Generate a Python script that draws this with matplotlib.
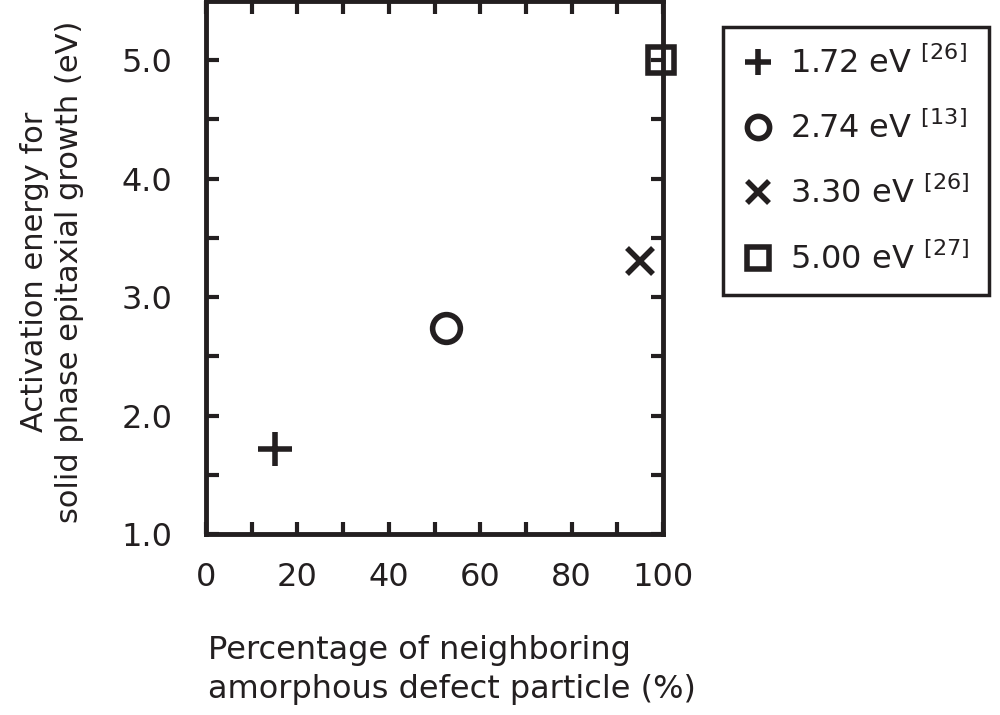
import numpy as np
import matplotlib.pyplot as plt
from matplotlib.ticker import MultipleLocator

plt.rcParams['font.family'] = ['DejaVu Sans']
plt.rcParams['mathtext.default'] = 'regular'

# data
pct = [15, 52.5, 95, 99.5]
energy = [1.72, 2.74, 3.30, 5.00]
labels = ['1.72 eV $^{[26]}$', '2.74 eV $^{[13]}$', '3.30 eV $^{[26]}$', '5.00 eV $^{[27]}$']
markers = ['+', 'o', 'x', 's']
msizes = [24, 20, 19, 19]

ink = '#231f20'

fig = plt.figure(figsize=(10, 7.15), dpi=100)
ax = fig.add_axes([0.206, 0.253, 0.457, 0.746])

for x, y, lab, m, ms in zip(pct, energy, labels, markers, msizes):
    ax.plot([x], [y], linestyle='none', marker=m, markersize=ms,
            markeredgewidth=4, markerfacecolor='none', markeredgecolor=ink,
            color=ink, label=lab, clip_on=False)

ax.set_xlim(0, 100)
ax.set_ylim(1.0, 5.5)
ax.xaxis.set_major_locator(MultipleLocator(20))
ax.xaxis.set_minor_locator(MultipleLocator(10))
ax.yaxis.set_major_locator(MultipleLocator(1.0))
ax.yaxis.set_minor_locator(MultipleLocator(0.5))
ax.yaxis.set_major_formatter(lambda v, p: f'{v:.1f}')
for s in ax.spines.values():
    s.set_linewidth(3.5)
    s.set_color(ink)
ax.tick_params(which='both', direction='in', top=True, right=True,
               length=9, width=3, color=ink, labelsize=23, labelcolor=ink)
ax.tick_params(axis='x', pad=20)
ax.tick_params(axis='y', pad=24)

fig.text(0.208, 0.063, 'Percentage of neighboring\namorphous defect particle (%)',
         fontsize=23, ha='left', va='center', linespacing=1.35, color=ink)
fig.text(0.052, 0.62, 'Activation energy for\nsolid phase epitaxial growth (eV)',
         fontsize=22, ha='center', va='center', rotation=90, linespacing=1.3, color=ink)

leg = ax.legend(loc='upper left', bbox_to_anchor=(0.723, 0.962), bbox_transform=fig.transFigure,
                borderaxespad=0, fontsize=23, frameon=True, fancybox=False,
                edgecolor=ink, framealpha=1,
                handlelength=1.0, handletextpad=0.5, labelspacing=1.0, borderpad=0.6,
                markerscale=0.8)
leg.get_frame().set_linewidth(2.5)
for t in leg.get_texts():
    t.set_color(ink)

fig.savefig('out.png', dpi=100)
